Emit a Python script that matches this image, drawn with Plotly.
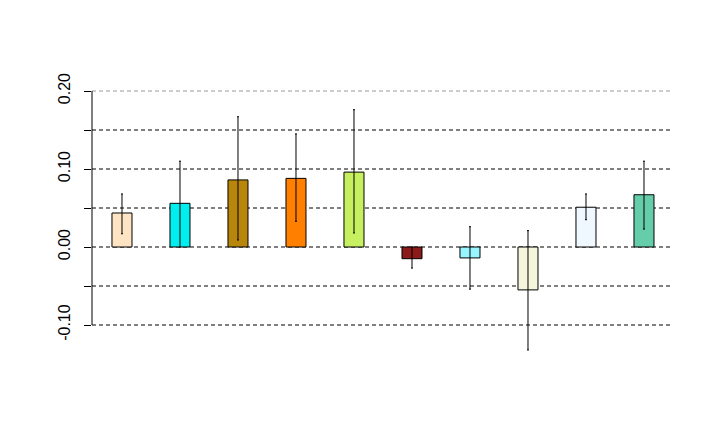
import plotly.graph_objects as go

positions = [1, 2, 3, 4, 5, 6, 7, 8, 9, 10]
values = [0.0436, 0.056, 0.086, 0.088, 0.096, -0.015, -0.014, -0.055, 0.051, 0.067]
upper = [0.068, 0.110, 0.167, 0.145, 0.176, 0.0, 0.026, 0.021, 0.068, 0.110]
lower = [0.017, 0.0, 0.009, 0.033, 0.018, -0.027, -0.054, -0.132, 0.035, 0.023]
colors = ["#FFE4C4", "#00EEEE", "#B8860B", "#FF7F00", "#C6F060",
          "#8B1A1A", "#98F5FF", "#F5F5DC", "#F0F8FF", "#66CDAA"]
tick_vals = [-0.10, -0.05, 0.00, 0.05, 0.10, 0.15, 0.20]
tick_text = ["-0.10", "", "0.00", "", "0.10", "", "0.20"]
grid_vals = [-0.10, -0.05, 0.00, 0.05, 0.10, 0.15]

fig = go.Figure(go.Bar(
    x=positions, y=values, width=0.345,
    marker=dict(color=colors, line=dict(color="black", width=1)),
    error_y=dict(type="data", symmetric=False,
                 array=[u - v for u, v in zip(upper, values)],
                 arrayminus=[v - l for v, l in zip(values, lower)],
                 color="black", thickness=1, width=1),
))
shapes = [dict(type="line", xref="paper", x0=0, x1=1, y0=g, y1=g,
               line=dict(color="black", width=1, dash="4px,3px"), layer="below") for g in grid_vals]
shapes.append(dict(type="line", xref="paper", x0=0, x1=1, y0=0.2, y1=0.2,
                   line=dict(color="#999999", width=1, dash="4px,3px"), layer="below"))
shapes.append(dict(type="line", xref="paper", x0=0, x1=0, y0=-0.1, y1=0.2,
                   line=dict(color="black", width=1)))
fig.update_layout(
    width=720, height=440, plot_bgcolor="white", paper_bgcolor="white",
    margin=dict(l=84, r=56, t=44, b=84, autoexpand=False), showlegend=False, shapes=shapes,
    xaxis=dict(range=[0.483, 10.483], showticklabels=False, showgrid=False,
               zeroline=False, showline=False, ticks="", automargin=False),
    yaxis=dict(range=[-0.15, 0.25], tickvals=tick_vals, ticktext=tick_text,
               tickangle=-90, ticks="outside", ticklen=7, tickcolor="black",
               showgrid=False, zeroline=False, showline=False, automargin=False,
               ticklabelstandoff=8,
               tickfont=dict(family="Liberation Sans", size=16, color="black")),
)
fig.write_html("out.html")
